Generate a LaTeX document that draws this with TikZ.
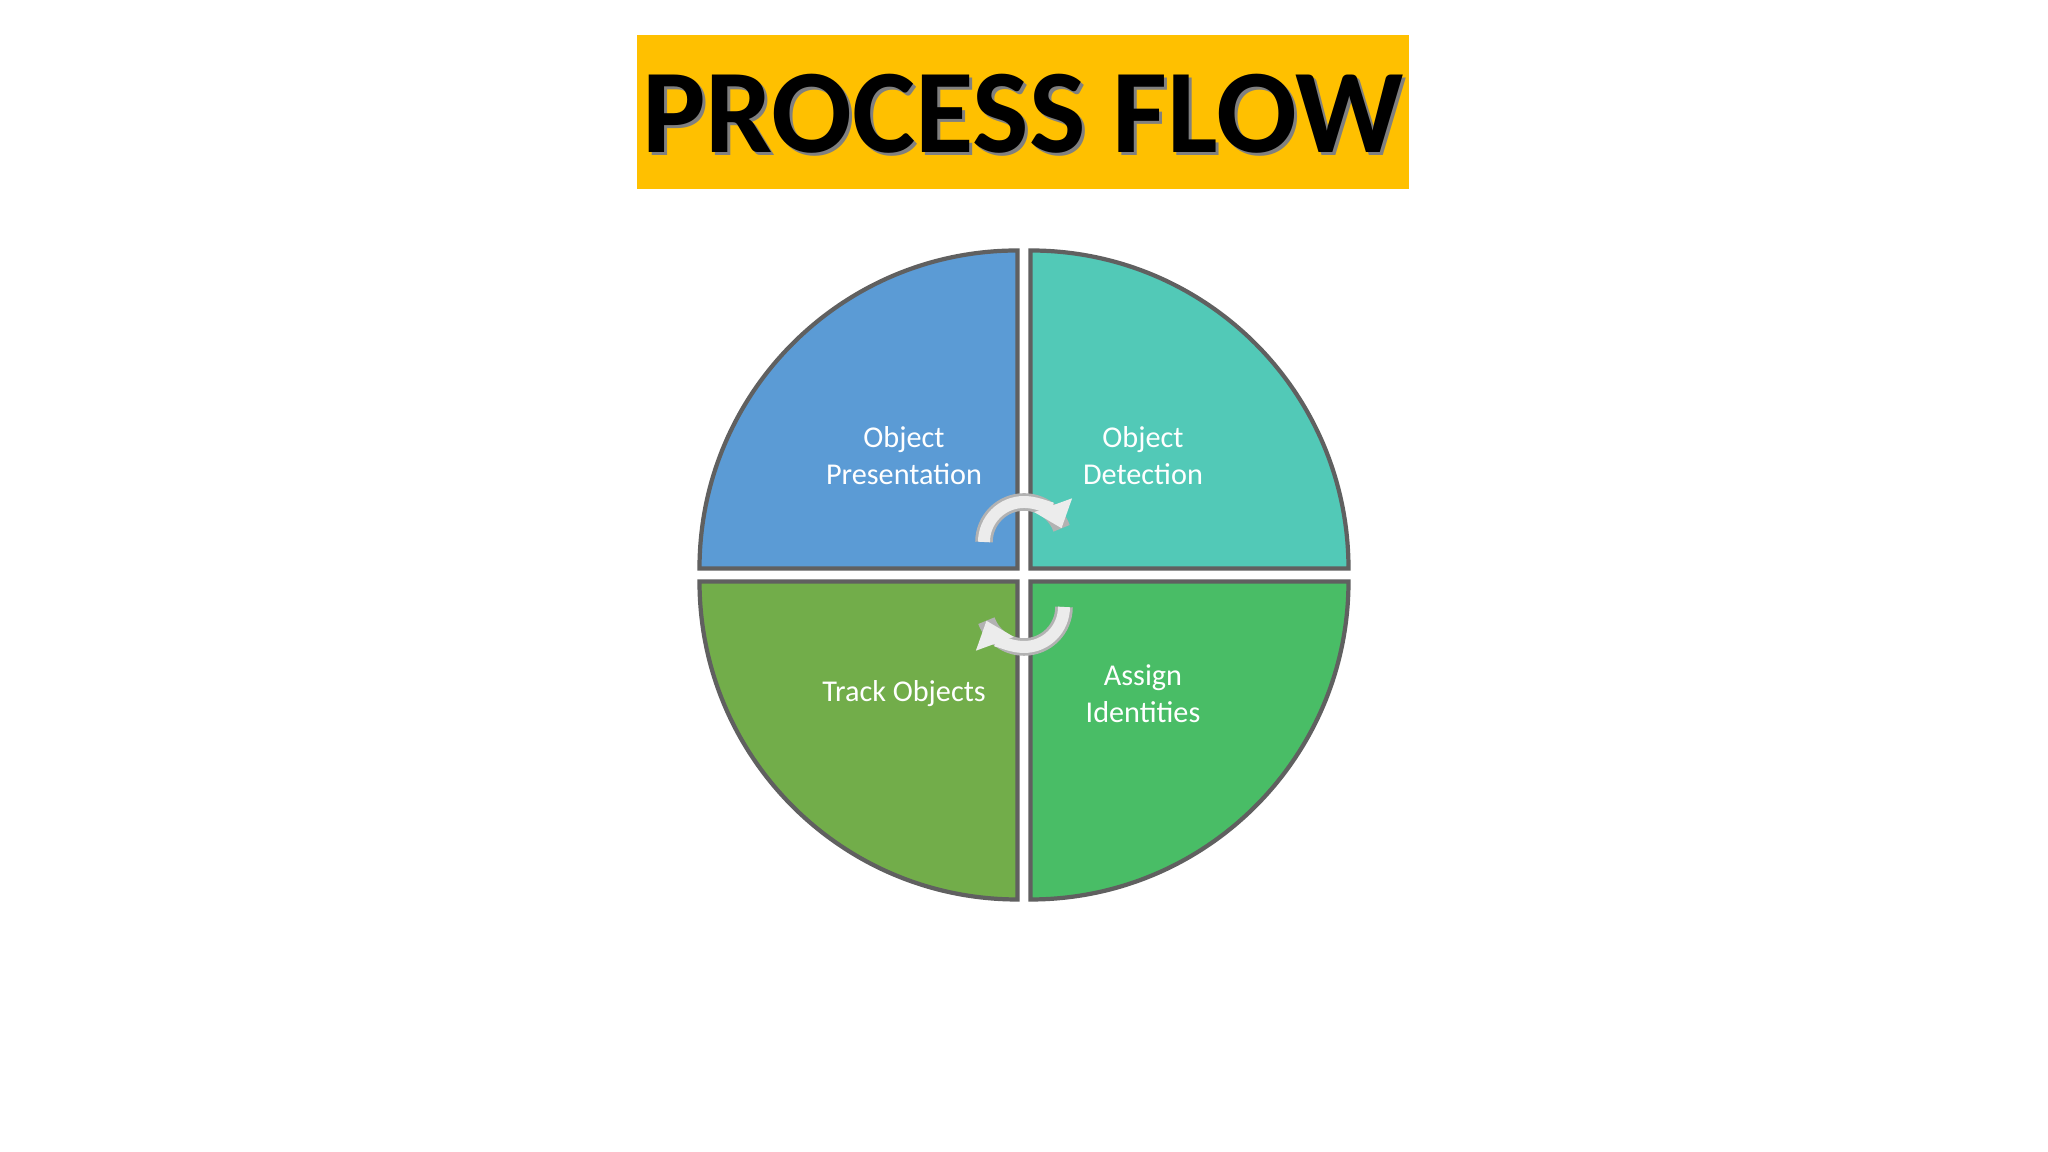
\documentclass[tikz,border=0pt]{standalone}
\usepackage{fontspec}
\setmainfont{Carlito}
\usetikzlibrary{arrows.meta}
\definecolor{qblue}{HTML}{5B9BD5}
\definecolor{qteal}{HTML}{52C9B7}
\definecolor{qolive}{HTML}{72AD4A}
\definecolor{qgreen}{HTML}{49BD66}
\definecolor{titlebg}{HTML}{FFC000}
\begin{document}
\begin{tikzpicture}[
  quad/.style={draw=gray!75!black, line width=1.2pt},
  lbl/.style={text=white, align=center, font=\fontsize{8.6}{10.5}\selectfont},
  cyc/.style={draw=gray!70, line width=4pt, -{Triangle[length=8pt,width=12pt]}, color=gray!25}]
\useasboundingbox (0,0) rectangle (20.48,11.52);
\fill[white] (0,0) rectangle (20.48,11.52);
\node[fill=titlebg, minimum width=7.72cm, minimum height=1.54cm, inner sep=0] (title) at (10.23,10.4) {};
\node[text=gray, font=\bfseries\fontsize{34}{40}\selectfont] at (10.26,10.35) {PROCESS FLOW};
\node[text=black, font=\bfseries\fontsize{34}{40}\selectfont] (tt) at (10.23,10.38) {PROCESS FLOW};
\def\cx{10.24}\def\cy{5.77}\def\g{0.065}\def\R{3.18}
\filldraw[quad, fill=qblue] (\cx-\g,\cy+\g) -- ++(-\R,0) arc[start angle=180,end angle=90,radius=\R] -- cycle;
\filldraw[quad, fill=qteal] (\cx+\g,\cy+\g) -- ++(\R,0) arc[start angle=0,end angle=90,radius=\R] -- cycle;
\filldraw[quad, fill=qolive] (\cx-\g,\cy-\g) -- ++(-\R,0) arc[start angle=180,end angle=270,radius=\R] -- cycle;
\filldraw[quad, fill=qgreen] (\cx+\g,\cy-\g) -- ++(\R,0) arc[start angle=0,end angle=-90,radius=\R] -- cycle;
\node[lbl] (op) at (9.04,6.96) {Object\\Presentation};
\node[lbl] (od) at (11.43,6.96) {Object\\Detection};
\node[lbl] (to) at (9.04,4.58) {Track Objects};
\node[lbl] (ai) at (11.43,4.58) {Assign\\Identities};
\draw[line width=5pt, gray!60] (10.24-0.40,6.10) arc[start angle=180,end angle=20,radius=0.40];
\draw[line width=3.4pt, gray!15, -{Triangle[length=7pt,width=11pt]}] (10.24-0.40,6.10) arc[start angle=180,end angle=20,radius=0.40];
\draw[line width=5pt, gray!60] (10.24+0.40,5.45) arc[start angle=0,end angle=-160,radius=0.40];
\draw[line width=3.4pt, gray!15, -{Triangle[length=7pt,width=11pt]}] (10.24+0.40,5.45) arc[start angle=0,end angle=-160,radius=0.40];
\end{tikzpicture}
\end{document}
